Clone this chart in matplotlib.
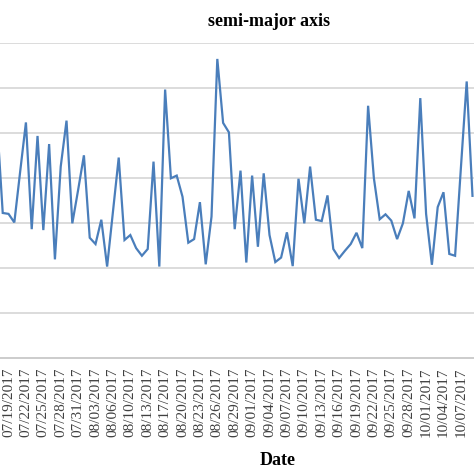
import numpy as np
import pandas as pd
import matplotlib
matplotlib.use("Agg")
import matplotlib.pyplot as plt

# trading-day style categories: two calendar days have no record
dates = pd.date_range("2017-07-16", "2017-10-09").drop(
    pd.to_datetime(["2017-08-09", "2017-08-15"]))

# semi-major axis values (grid units)
values = [
    4.00, 5.29, 3.22, 3.20, 3.01, 4.13, 5.23, 2.86, 4.93, 2.84,
    4.75, 2.19, 4.25, 5.27, 2.99, 3.73, 4.50, 2.67, 2.53, 3.07,
    2.03, 3.24, 4.45, 2.62, 2.73, 2.44, 2.27, 2.42, 4.36, 2.03,
    5.96, 3.99, 4.05, 3.58, 2.56, 2.64, 3.46, 2.08, 3.14, 6.64,
    5.22, 5.01, 2.86, 4.16, 2.12, 4.05, 2.47, 4.10, 2.73, 2.13,
    2.23, 2.79, 2.04, 3.98, 2.99, 4.25, 3.07, 3.04, 3.61, 2.42,
    2.22, 2.38, 2.53, 2.78, 2.44, 5.60, 3.99, 3.08, 3.19, 3.05,
    2.64, 2.99, 3.71, 3.10, 5.77, 3.20, 2.07, 3.35, 3.68, 2.31,
    2.27, 4.22, 6.14, 3.60,
]

tick_idx = list(range(3, len(dates), 3))
tick_labels = [dates[i].strftime("%m/%d/%Y") for i in tick_idx]

serif = ["Liberation Serif", "DejaVu Serif"]
line_blue = "#4a7ebb"
grid_gray = "#d9d9d9"

fig = plt.figure(figsize=(4.74, 4.74), dpi=100)
# the plot area runs past both edges of the picture (cropped chart)
ax = fig.add_axes([0.0, 0.2447, 1.0, 0.6652])

x = np.arange(len(values))
ax.plot(x, values, color=line_blue, lw=1.6, solid_joinstyle="miter")

ax.set_xlim(1.53, 83.26)
ax.set_ylim(0, 7)
ax.set_yticks(range(1, 8))
ax.yaxis.grid(True, color=grid_gray, lw=1.3)
ax.set_axisbelow(True)
ax.tick_params(axis="y", left=False, labelleft=False)

for side in ["top", "right", "left"]:
    ax.spines[side].set_visible(False)
ax.spines["bottom"].set_color("#c8c8c8")
ax.spines["bottom"].set_linewidth(1.3)

ax.set_xticks(tick_idx)
ax.set_xticklabels(tick_labels, rotation=90, fontsize=11, family=serif,
                   color="#404040")
ax.tick_params(axis="x", length=0, pad=6.5)

ax.set_xlabel("Date", fontsize=13, fontweight="bold", family=serif)
ax.xaxis.set_label_coords(278 / 474, 1 - 452 / 474, transform=fig.transFigure)

fig.text(269.5 / 474, 1 - 21 / 474, "semi-major axis", ha="center", va="center",
         fontsize=13, fontweight="bold", family=serif)

fig.savefig("out.png", dpi=100)
